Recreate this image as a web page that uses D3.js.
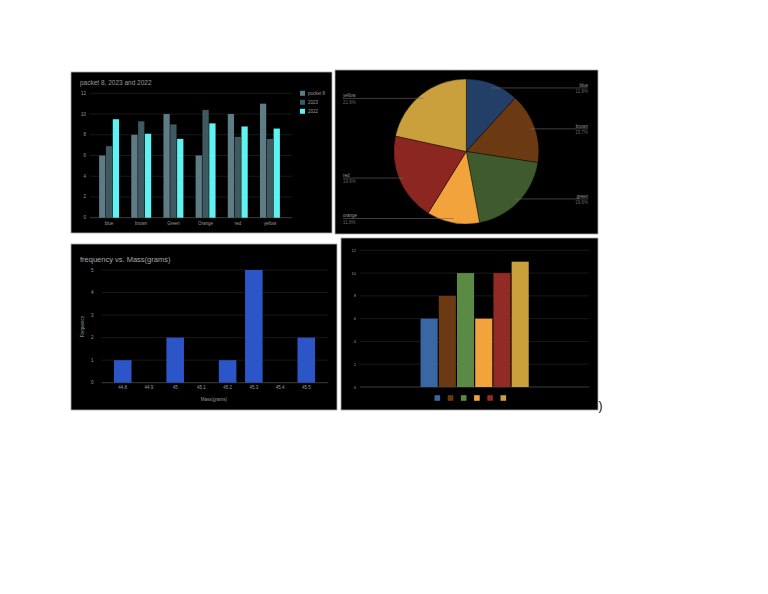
<!DOCTYPE html>
<html><head><meta charset="utf-8">
<script src="https://cdn.jsdelivr.net/npm/d3@7"></script>
<style>
html,body{margin:0;padding:0;background:#fff;}
svg{display:block;font-family:"Liberation Sans",Arial,sans-serif;}
</style></head>
<body>
<svg id="c" width="768" height="594"></svg>
<script>
// ---- Data ----
const candyColors = ["blue","brown","Green","Orange","red","yellow"];
const seriesNames = ["pocket 8","2023","2022"];
const pocket8 = [6,8,10,6,10,11];
const y2023 = [6.9,9.3,9,10.4,7.8,7.6];
const y2022 = [9.5,8.1,7.6,9.1,8.8,8.6];
const ticks12 = [0,2,4,6,8,10,12];

const pieLabels = ["blue","brown","green","orange","red","yellow"];
const pieCounts = [6,8,10,6,10,11];

const masses = ["44.8","44.9","45","45.1","45.2","45.3","45.4","45.5"];
const freq = [1,0,2,0,1,5,0,2];
const ticks5 = [0,1,2,3,4,5];

const colorCounts = [6,8,10,6,10,11];

const svg = d3.select("#c");
const textCol = "#9a9a9a", gridCol = "#2a2a2a", axisCol = "#666";

function panel(x0,y0,x1,y1){
  svg.append("rect").attr("x",x0).attr("y",y0).attr("width",x1-x0).attr("height",y1-y0)
    .attr("fill","#000").attr("stroke","#aaa").attr("stroke-width",0.8);
  return svg.append("g");
}

// ---------- Panel 1: grouped bars ----------
{
  const g = panel(71,72,332,233);
  g.append("text").attr("x",80).attr("y",85).attr("fill",textCol).attr("font-size",6.5).text("packet 8, 2023 and 2022");
  const y = d3.scaleLinear().domain([0,12]).range([217.7,93.3]);
  const x0 = d3.scaleBand().domain(candyColors).range([93,286]).paddingInner(0.38).paddingOuter(0.19);
  const x1 = d3.scaleBand().domain(seriesNames).range([0,x0.bandwidth()]).paddingInner(0.08);
  const cols = ["#5d7c85","#3e5960","#5ff2f2"];
  const vals = [pocket8,y2023,y2022];
  g.selectAll(".gl").data(ticks12).join("line").attr("x1",90).attr("x2",292)
    .attr("y1",d=>y(d)).attr("y2",d=>y(d)).attr("stroke",d=>d===0?axisCol:gridCol).attr("stroke-width",0.6);
  g.selectAll(".yl").data(ticks12).join("text").attr("x",86).attr("y",d=>y(d)+1.5)
    .attr("text-anchor","end").attr("fill",textCol).attr("font-size",4.5).text(d=>d);
  seriesNames.forEach((s,si)=>{
    g.selectAll(".b"+si).data(candyColors).join("rect")
      .attr("x",c=>x0(c)+x1(s)).attr("width",x1.bandwidth())
      .attr("y",(c,i)=>y(vals[si][i])).attr("height",(c,i)=>y(0)-y(vals[si][i]))
      .attr("fill",cols[si]);
  });
  g.selectAll(".xl").data(candyColors).join("text").attr("x",c=>x0(c)+x0.bandwidth()/2).attr("y",224.5)
    .attr("text-anchor","middle").attr("fill",textCol).attr("font-size",4.5).text(d=>d);
  const ly = d3.scalePoint().domain(seriesNames).range([93.3,111.3]);
  g.selectAll(".lg").data(seriesNames).join("rect").attr("x",300).attr("y",d=>ly(d)-2.5)
    .attr("width",5).attr("height",5).attr("fill",(d,i)=>cols[i]);
  g.selectAll(".lt").data(seriesNames).join("text").attr("x",308).attr("y",d=>ly(d)+1.5)
    .attr("fill",textCol).attr("font-size",4.5).text(d=>d);
}

// ---------- Panel 2: pie ----------
{
  const g = panel(335,70,598,234);
  const cx = 466.3, cy = 151.5, r = 72.5;
  const pcols = ["#233f68","#6b3a12","#3f5b2e","#f2a33c","#8c2621","#c9a03b"];
  const pie = d3.pie().sort(null).value(d=>d)(pieCounts);
  const arc = d3.arc().innerRadius(0).outerRadius(r);
  const pg = g.append("g").attr("transform",`translate(${cx},${cy})`);
  pg.selectAll("path").data(pie).join("path").attr("d",arc).attr("fill",(d,i)=>pcols[i])
    .attr("stroke","#000").attr("stroke-width",0.4);
  const total = d3.sum(pieCounts);
  pie.forEach((d,i)=>{
    const a = (d.startAngle+d.endAngle)/2;
    const px = cx + 0.94*r*Math.sin(a), py = cy - 0.94*r*Math.cos(a);
    const right = a < Math.PI;
    const lx = right ? 588 : 343;
    g.append("line").attr("x1",px).attr("y1",py).attr("x2",lx).attr("y2",py)
      .attr("stroke","#6a6a6a").attr("stroke-width",0.6);
    g.append("text").attr("x",lx).attr("y",py-1.2).attr("text-anchor",right?"end":"start")
      .attr("fill",textCol).attr("font-size",4.5).text(pieLabels[i]);
    g.append("text").attr("x",lx).attr("y",py+5.2).attr("text-anchor",right?"end":"start")
      .attr("fill","#666").attr("font-size",4.5).text((d.value/total*100).toFixed(1)+"%");
  });
}

// ---------- Panel 3: histogram-like bars ----------
{
  const g = panel(71,244,337,410);
  g.append("text").attr("x",80).attr("y",262).attr("fill","#a8a8a8").attr("font-size",7.5).text("frequency vs. Mass(grams)");
  const y = d3.scaleLinear().domain([0,5]).range([382.7,270]);
  const x = d3.scaleBand().domain(masses).range([105.3,323.7]).padding(0.33);
  g.selectAll(".gl").data(ticks5).join("line").attr("x1",101.7).attr("x2",328.3)
    .attr("y1",d=>y(d)).attr("y2",d=>y(d)).attr("stroke",d=>d===0?axisCol:gridCol).attr("stroke-width",0.6);
  g.selectAll(".yl").data(ticks5).join("text").attr("x",93.5).attr("y",d=>y(d)+1.5)
    .attr("text-anchor","end").attr("fill",textCol).attr("font-size",4.5).text(d=>d);
  g.selectAll(".b").data(masses).join("rect").attr("x",m=>x(m)).attr("width",x.bandwidth())
    .attr("y",(m,i)=>y(freq[i])).attr("height",(m,i)=>y(0)-y(freq[i])).attr("fill","#2c55c7");
  g.selectAll(".xl").data(masses).join("text").attr("x",m=>x(m)+x.bandwidth()/2).attr("y",389)
    .attr("text-anchor","middle").attr("fill",textCol).attr("font-size",4.5).text(d=>d);
  g.append("text").attr("x",214).attr("y",400.5).attr("text-anchor","middle").attr("fill",textCol)
    .attr("font-size",4.5).text("Mass(grams)");
  g.append("text").attr("transform","translate(83.5,326.7) rotate(-90)").attr("text-anchor","middle")
    .attr("fill",textCol).attr("font-size",4.5).text("Frequency");
}

// ---------- Panel 4: colored bars ----------
{
  const g = panel(341,238,598,410);
  const pcols = ["#3a66a3","#6b3a12","#5b8a45","#f2a33c","#922a26","#c9a03b"];
  const y = d3.scaleLinear().domain([0,12]).range([387,250.3]);
  const x0 = d3.scaleBand().domain(["all"]).range([360,589.3]).paddingInner(0).paddingOuter(0.56);
  const x1 = d3.scaleBand().domain(pieLabels).range([0,x0.bandwidth()]).paddingInner(0.06);
  g.selectAll(".gl").data(ticks12).join("line").attr("x1",360).attr("x2",589.3)
    .attr("y1",d=>y(d)).attr("y2",d=>y(d)).attr("stroke",d=>d===0?axisCol:gridCol).attr("stroke-width",0.6);
  g.selectAll(".yl").data(ticks12).join("text").attr("x",356).attr("y",d=>y(d)+1.5)
    .attr("text-anchor","end").attr("fill",textCol).attr("font-size",4).text(d=>d);
  g.selectAll(".b").data(pieLabels).join("rect").attr("x",c=>x0("all")+x1(c)).attr("width",x1.bandwidth())
    .attr("y",(c,i)=>y(colorCounts[i])).attr("height",(c,i)=>y(0)-y(colorCounts[i])).attr("fill",(c,i)=>pcols[i]);
  const lx = d3.scalePoint().domain(pieLabels).range([437.3,503.3]);
  g.selectAll(".lg").data(pieLabels).join("rect").attr("x",c=>lx(c)-2.8).attr("y",395.2)
    .attr("width",5.6).attr("height",5.6).attr("fill",(c,i)=>pcols[i]);
}

svg.append("text").attr("x",598.5).attr("y",410).attr("fill","#000").attr("font-size",12).text(")");
</script>
</body></html>
